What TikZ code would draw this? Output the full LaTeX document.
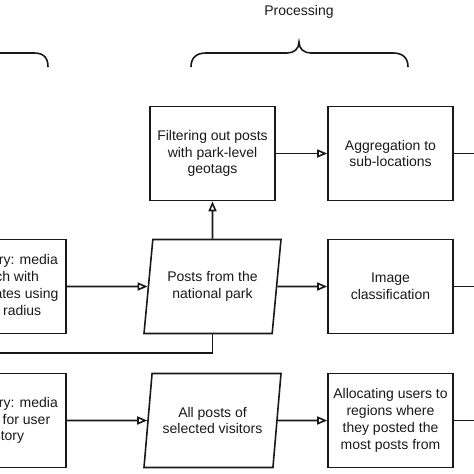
\documentclass[tikz,border=0pt]{standalone}
\usepackage{fontspec}
\setmainfont{Liberation Sans}
\usetikzlibrary{positioning,shapes.geometric,arrows.meta}

\begin{document}
\begin{tikzpicture}[x=1pt,y=-1pt,on grid,node distance=133pt and 178pt,
	every node/.style={font=\fontsize{14}{16.8}\selectfont,text=black!90},
	proc/.style={draw=black!90,line width=1.6pt,rectangle,minimum width=125pt,minimum height=94pt,align=center,inner sep=1pt},
	data/.style={proc,trapezium,trapezium left angle=74.5,trapezium right angle=105.5,trapezium stretches body,minimum width=137pt},
	flow/.style={-{Triangle[open,length=10pt,width=8pt]},line width=1.6pt,draw=black!90},
	link/.style={line width=1.6pt,draw=black!90}]
	\useasboundingbox (0,0) rectangle (474,474);
	\node (title) at (299,12) {Processing};
	% top row
	\node[proc] (f_1) at (212.5,153.5) {Filtering out posts\\with park-level\\geotags};
	\node[proc] (a_1) [right=of f_1] {Aggregation to\\sub-locations};
	% middle row
	\node[data] (p_1) [below=of f_1] {Posts from the\\national park};
	\node[proc] (c_1) [right=of p_1] {Image\\classification};
	\node[proc] (q_1) [left=209pt of p_1] {API query: media\\search with\\coordinates using\\given radius};
	% bottom row
	\node[data] (p_2) [below=134pt of p_1] {All posts of\\selected visitors};
	\node[proc] (u_2) [right=of p_2] {Allocating users to\\regions where\\they posted the\\most posts from};
	\node[proc] (q_2) [left=209pt of p_2] {API query: media\\search for user\\history};
	% loose ends
	\coordinate (e_1) at (490,153.5);
	\coordinate (e_2) at (490,286.5);
	\coordinate (e_3) at (490,420.5);
	\coordinate (r_1) at (-30,353);
	\path[flow]
	(q_1) edge (p_1)
	(p_1) edge (f_1)
	edge (c_1)
	(f_1) edge (a_1)
	(q_2) edge (p_2)
	(p_2) edge (u_2);
	\draw[link] (a_1) -- (e_1);
	\draw[link] (c_1) -- (e_2);
	\draw[link] (u_2) -- (e_3);
	\draw[link] (p_1.south) |- (r_1);
	% braces
	\draw[link] (-60,53) -- (34,53) .. controls (44,53) and (48,58) .. (48,67);
	\draw[link] (191,67) .. controls (191,58) and (196,53) .. (206,53) -- (287,53) .. controls (294,53) and (299,49) .. (299,42) .. controls (299,49) and (304,53) .. (311,53) -- (393,53) .. controls (403,53) and (408,58) .. (408,67);
\end{tikzpicture}
\end{document}
